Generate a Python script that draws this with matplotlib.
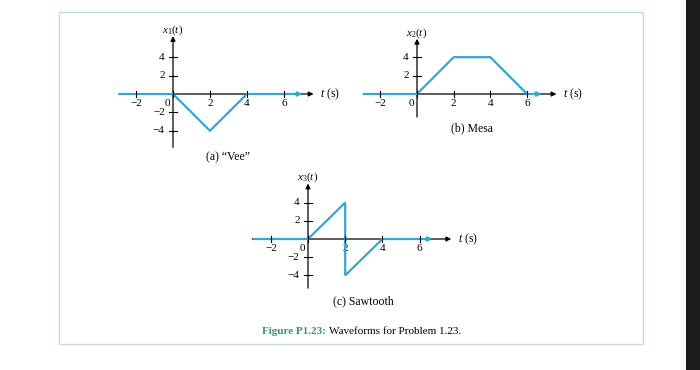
import matplotlib.pyplot as plt
from matplotlib.patches import Rectangle

plt.rcParams['font.family'] = 'Liberation Serif'
plt.rcParams['mathtext.fontset'] = 'custom'
plt.rcParams['mathtext.rm'] = 'Liberation Serif'
plt.rcParams['mathtext.it'] = 'Liberation Serif:italic'

BLUE = '#35a6cf'
W, H = 700, 370

# waveforms (t in s, x in arbitrary units)
t_vee = [-2.9, 0, 2, 4, 7.0]
x_vee = [0, 0, -4, 0, 0]
t_mesa = [-2.9, 0, 2, 4, 6, 6.8]
x_mesa = [0, 0, 4, 4, 0, 0]
t_saw = [-2.9, 0, 2, 2, 4, 6.7]
x_saw = [0, 0, 4, -4, 0, 0]

xticks = [-2, 0, 2, 4, 6]


def make_axes(fig, ox, oy, sx, sy, xlim, ylim):
    # place axes so that data (0,0) lands on pixel (ox, oy)
    left = ox + xlim[0] * sx
    right = ox + xlim[1] * sx
    top = oy - ylim[1] * sy
    bottom = oy - ylim[0] * sy
    ax = fig.add_axes([left / W, 1 - bottom / H, (right - left) / W, (bottom - top) / H])
    ax.set_xlim(*xlim)
    ax.set_ylim(*ylim)
    ax.axis('off')
    return ax


def draw_panel(ax, t, x, yticks, xspan, yspan, ylabel, caption, cap_y):
    # axes with arrows
    ax.annotate('', xy=(xspan[1], 0), xytext=(xspan[0], 0),
                arrowprops=dict(arrowstyle='-|>', color='black', lw=0.9,
                                mutation_scale=7, shrinkA=0, shrinkB=0), zorder=1)
    ax.annotate('', xy=(0, yspan[1]), xytext=(0, yspan[0]),
                arrowprops=dict(arrowstyle='-|>', color='black', lw=0.9,
                                mutation_scale=7, shrinkA=0, shrinkB=0), zorder=1)
    for xt in xticks:
        ax.plot([xt, xt], [-0.35, 0.35], color='black', lw=0.8, zorder=5)
        lab = '0' if xt == 0 else ('\u22122' if xt < 0 else str(xt))
        if xt == 0:
            ax.text(-0.15, -0.5, lab, ha='right', va='top', fontsize=8)
        else:
            ax.text(xt, -0.5, lab, ha='center', va='top', fontsize=8)
    for yt in yticks:
        ax.plot([-0.22, 0.22], [yt, yt], color='black', lw=0.8, zorder=5)
        lab = ('\u2212%d' % -yt) if yt < 0 else str(yt)
        ax.text(-0.45, yt, lab, ha='right', va='center', fontsize=8)
    # waveform
    ax.plot(t[:-1], x[:-1], color=BLUE, lw=1.6, solid_joinstyle='miter', zorder=4)
    ax.annotate('', xy=(t[-1], x[-1]), xytext=(t[-2], x[-2]),
                arrowprops=dict(arrowstyle='-|>', color=BLUE, lw=1.6,
                                mutation_scale=6, shrinkA=0, shrinkB=0), zorder=4)
    ax.text(0, yspan[1] - 0.1, ylabel, ha='center', va='bottom', fontsize=8)
    ax.text(xspan[1] + 0.35, 0, r'$t$ (s)', ha='left', va='center', fontsize=8.5)
    ax.text(3.0, cap_y, caption, ha='center', va='center', fontsize=8.5)


fig = plt.figure(figsize=(7, 3.7), dpi=100)
fig.patch.set_facecolor('white')

# frame and dark strip
fig.patches.append(Rectangle((59 / W, 1 - 344 / H), 584 / W, 332 / H, transform=fig.transFigure,
                             fill=False, edgecolor='#bfe0d6', lw=1.0))
fig.patches.append(Rectangle((686 / W, 0), 14 / W, 1, transform=fig.transFigure,
                             facecolor='#1c1c1c', edgecolor='none'))

ax_a = make_axes(fig, 173, 94, 18.5, 9.2, (-3.5, 9.5), (-7.5, 8))
draw_panel(ax_a, t_vee, x_vee, [4, 2, -2, -4], (-2.9, 7.6), (-5.8, 6.3),
           r'$x_1(t)$', '(a) \u201cVee\u201d', -6.85)

ax_b = make_axes(fig, 417, 94, 18.35, 9.2, (-3.5, 9.5), (-4, 8))
draw_panel(ax_b, t_mesa, x_mesa, [4, 2], (-2.9, 7.6), (-2.5, 6.0),
           r'$x_2(t)$', '(b) Mesa', -3.7)

ax_c = make_axes(fig, 308, 239, 18.6, 9.1, (-3.5, 9.5), (-8, 8))
draw_panel(ax_c, t_saw, x_saw, [4, 2, -2, -4], (-3.0, 7.7), (-5.4, 6.1),
           r'$x_3(t)$', '(c) Sawtooth', -6.9)

fig.text(326 / W, 1 - 332 / H, 'Figure P1.23:', color='#2f9a6c', fontweight='bold',
         fontsize=8, ha='right', va='center')
fig.text(329 / W, 1 - 332 / H, 'Waveforms for Problem 1.23.', color='black',
         fontsize=8, ha='left', va='center')

fig.savefig('out.png', dpi=100)
